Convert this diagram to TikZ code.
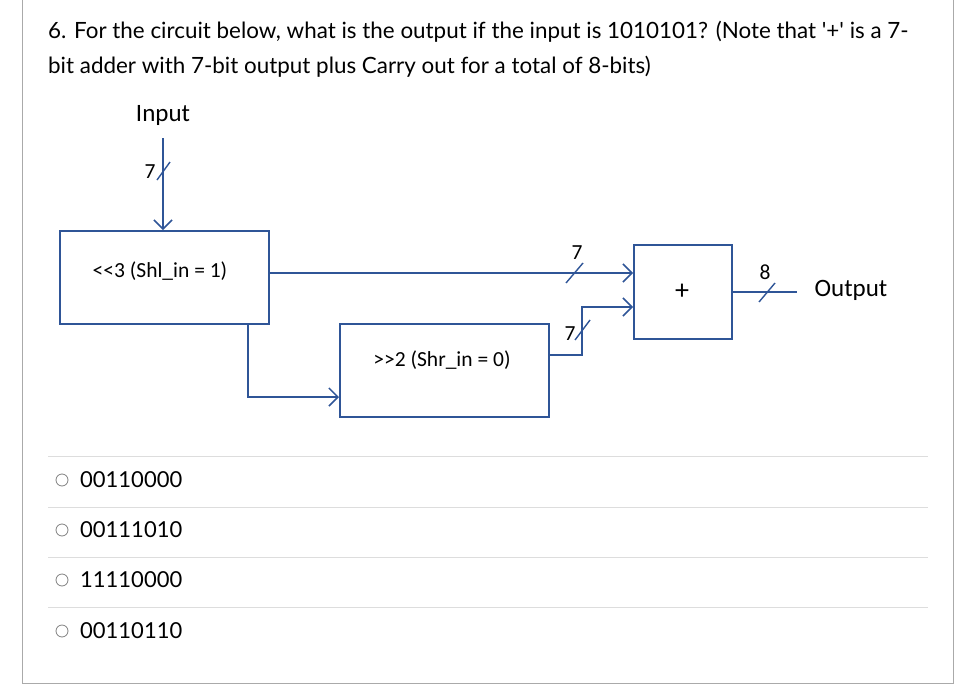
\documentclass[tikz,border=0pt]{standalone}
\usepackage{fontspec}
\setmainfont{Lato}
\newfontfamily\calfont{Carlito}
\usetikzlibrary{arrows.meta}
\definecolor{wire}{HTML}{2F5597}
\definecolor{frame}{HTML}{AAAAAA}
\definecolor{sep}{HTML}{DDDDDD}
\tikzset{
  blk/.style={draw=wire,line width=1.8pt,anchor=north west,inner sep=0pt},
  wr/.style={draw=wire,line width=1.8pt},
  arr/.style={wr,-{Straight Barb[length=9pt,width=18pt,line width=1.5pt]}},
  sl/.style={draw=wire,line width=1.4pt},
  dl/.style={font=\calfont\fontsize{21.5}{24}\selectfont,inner sep=0pt},
  bl/.style={font=\calfont\fontsize{25}{28}\selectfont,inner sep=0pt},
  qt/.style={anchor=west,inner sep=0pt,font=\fontsize{22.4}{26}\selectfont},
  opt/.style={anchor=west,inner sep=0pt,font=\fontsize{22}{26}\selectfont},
  rad/.style={draw=gray,line width=0.8pt,circle,minimum size=12pt,inner sep=0pt},
}
\begin{document}
\begin{tikzpicture}[x=1pt,y=-1pt]
\useasboundingbox (0,0) rectangle (980,696);
\draw[frame,line width=1pt] (22.5,0) -- (22.5,683.5) -- (953.5,683.5) -- (953.5,0);
\node[qt] (q1) at (48,32) {6. For the circuit below, what is the output if the input is 1010101? (Note that \textquotesingle+\textquotesingle{} is a 7-};
\node[qt] (q2) at (48,67) {bit adder with 7-bit output plus Carry out for a total of 8-bits)};
% diagram
\node[blk,minimum width=209pt,minimum height=93pt] (b1) at (59,230) {};
\node[dl] at (160,271) {<{}<3 (Shl\_in = 1)};
\node[blk,minimum width=209pt,minimum height=93pt] (b2) at (339,323) {};
\node[dl] at (442,360) {>{}>2 (Shr\_in = 0)};
\node[blk,minimum width=98pt,minimum height=94pt] (ad) at (633,244) {};
\node[font=\calfont\fontsize{28}{30}\selectfont,inner sep=0pt] at (682,292) {+};
\node[bl] (in) at (163,115) {Input};
\node[bl] (out) at (851,290) {Output};
\coordinate (inS) at (163,138);
\coordinate (b1in) at (163,230);
\draw[arr] (inS) -- (b1in);
\draw[sl] (157,180) -- (170,162);
\node[dl] at (150,172) {7};
\coordinate (b1o) at (268,273);
\coordinate (a1) at (633,273);
\draw[arr] (b1o) -- (a1);
\draw[sl] (566,283) -- (583,263);
\node[dl] at (577,253) {7};
\coordinate (b1d) at (248,323);
\coordinate (b2i) at (339,397);
\draw[arr] (b1d) |- (b2i);
\coordinate (b2o) at (548,355);
\coordinate (a2) at (633,307);
\draw[arr] (b2o) -- (582,355) |- (a2);
\draw[sl] (575,340) -- (590,320);
\node[dl] at (570,334) {7};
\coordinate (ao) at (731,292);
\coordinate (oe) at (797,292);
\draw[wr] (ao) -- (oe);
\draw[sl] (759,302) -- (775,283);
\node[dl] at (765,272) {8};
% options
\foreach \y in {456,507,557,607} \draw[sep,line width=1pt] (48,\y) -- (928,\y);
\foreach \y/\t [count=\i] in {480/00110000,530/00111010,580/11110000,631/00110110}{
  \node[rad] (r\i) at (62,\y) {};
  \node[opt] (o\i) at (80,\y) {\t};
}
\end{tikzpicture}
\end{document}
